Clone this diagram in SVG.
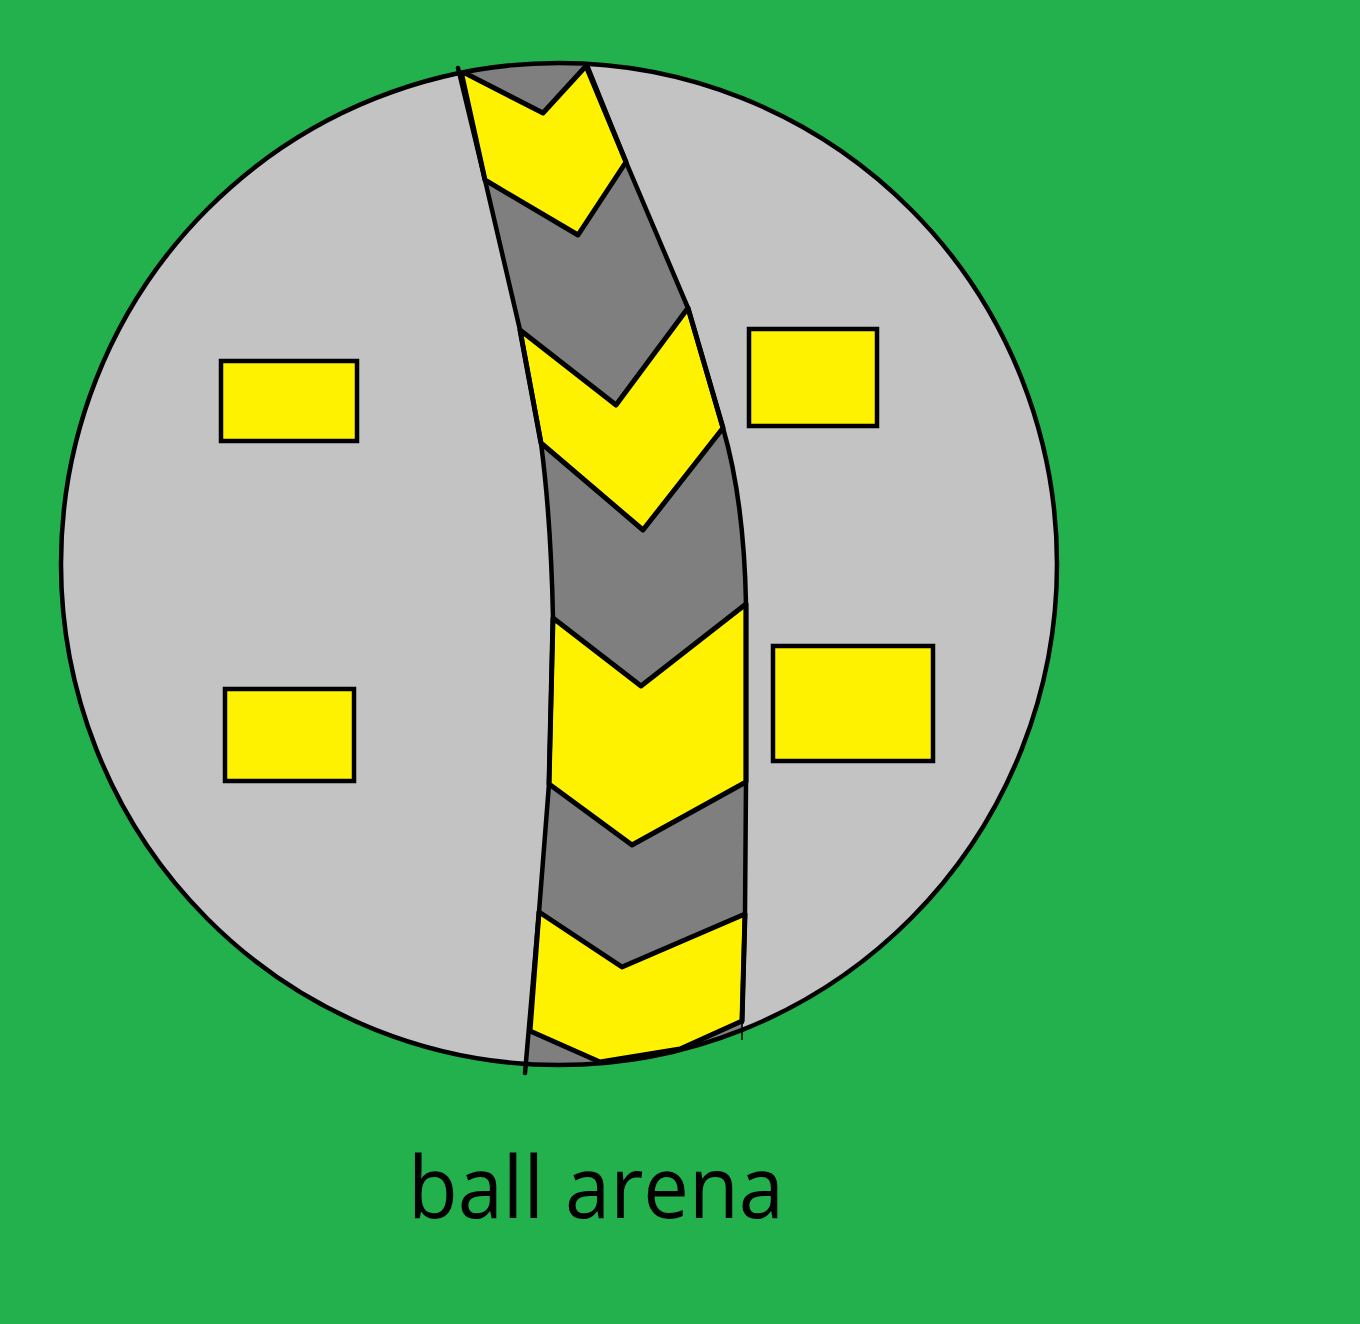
<svg xmlns="http://www.w3.org/2000/svg" width="1360" height="1324" viewBox="0 0 1360 1324">
<style>
.ln{fill:none;stroke:#000;stroke-width:4.5;stroke-linejoin:round;stroke-linecap:round}
.yel{fill:#fff200;stroke:#000;stroke-width:5;stroke-linejoin:round}
.pad{fill:#fff200;stroke:#000;stroke-width:4.5}
</style>
<defs>
<clipPath id="circ"><ellipse cx="559" cy="564" rx="498" ry="501"/></clipPath>
</defs>
<rect id="ground" x="0" y="0" width="1360" height="1324" fill="#22b14c"/>
<g id="arena">
<ellipse cx="559" cy="564" rx="498" ry="501" fill="#c3c3c3"/>
</g>
<g id="road" clip-path="url(#circ)">
<path fill="#7f7f7f" d="M458,60 L485,180 L520,330 L541,443 Q551,520 553,618 L549,784 L539,912 L525,1080 L742,1080 L745,914 L746,782 L746,604 Q744,500 723,428 L688,308 L626,162 L584,58 Z"/>
<polygon class="yel" points="461,71 543,113 586,66 626,162 578,235 485,180"/>
<polygon class="yel" points="520,330 616,405 688,308 723,428 643,530 541,443"/>
<polygon class="yel" points="553,618 641,686 746,604 746,782 632,845 549,784"/>
<polygon class="yel" points="539,912 622,967 745,914 742,1021 680,1049 600,1062 530,1031"/>
</g>
<g id="road-edges">
<path class="ln" d="M458,68 L485,180 L520,330 L541,443 Q551,520 553,618 L549,784 L539,912 L525,1073"/>
<path class="ln" d="M587,65 L626,162 L688,308 L723,428 Q744,500 746,604 L746,782 L745,914 L742,1022"/>
<line x1="742" y1="1020" x2="742" y2="1040" stroke="#000" stroke-width="1.5"/>
</g>
<g id="outline">
<ellipse cx="559" cy="564" rx="498" ry="501" fill="none" stroke="#000" stroke-width="4.5"/>
</g>
<g id="pads">
<rect id="pad1" class="pad" x="221" y="361" width="136" height="80"/>
<rect id="pad2" class="pad" x="225" y="689" width="129" height="92"/>
<rect id="pad3" class="pad" x="749" y="329" width="128" height="97"/>
<rect id="pad4" class="pad" x="773" y="646" width="160" height="115"/>
</g>
<text id="label" x="408" y="1218" font-family="Open Sans, Liberation Sans, sans-serif" font-size="86" fill="#000" textLength="376" lengthAdjust="spacingAndGlyphs">ball arena</text>
</svg>
